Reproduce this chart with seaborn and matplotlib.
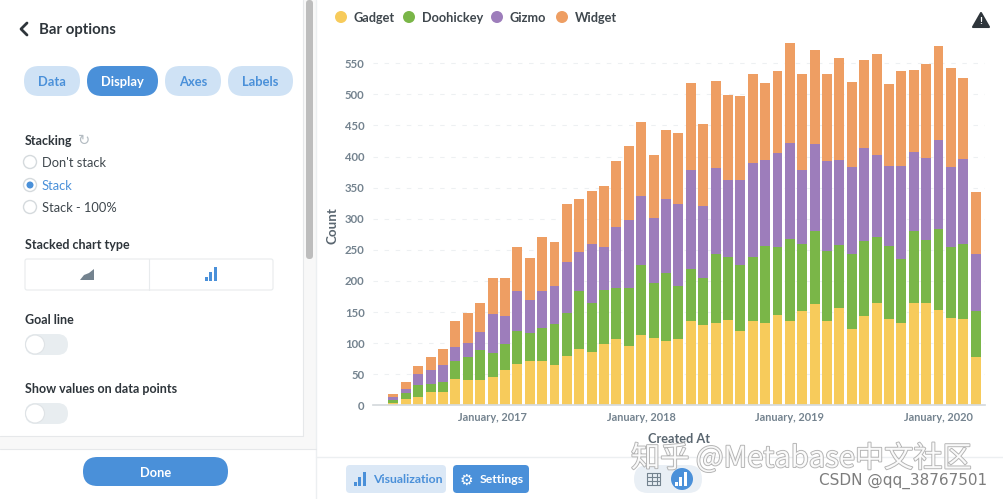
import numpy as np
import pandas as pd
import matplotlib
matplotlib.use('Agg')
import matplotlib.pyplot as plt
import matplotlib.patheffects as pe
from matplotlib.patches import Circle, FancyBboxPatch, Polygon, Rectangle
import seaborn as sns

# values
gadget = [1, 4, 10, 14, 21, 21, 43, 41, 41, 46, 56, 66, 71, 72, 65, 79, 91, 85, 99, 107, 95, 113, 108, 104, 107,
          135, 129, 133, 137, 120, 136, 133, 145, 136, 152, 163, 136, 156, 123, 143, 165, 139, 133, 165, 165, 154, 140, 139, 78]
doohickey = [0, 4, 9, 19, 14, 17, 28, 36, 48, 38, 42, 54, 46, 53, 65, 70, 92, 80, 87, 81, 93, 113, 88, 109, 85,
             84, 75, 111, 101, 106, 102, 123, 110, 131, 108, 117, 112, 102, 120, 121, 106, 117, 103, 115, 100, 129, 115, 121, 73]
gizmo = [0, 5, 7, 18, 21, 27, 22, 23, 29, 62, 45, 63, 53, 59, 61, 81, 63, 94, 68, 98, 110, 111, 105, 118, 131,
         159, 117, 137, 125, 136, 151, 139, 151, 154, 119, 140, 144, 137, 140, 150, 131, 129, 149, 127, 133, 144, 128, 136, 92]
widget = [0, 5, 11, 12, 22, 26, 43, 48, 47, 58, 62, 72, 67, 87, 72, 94, 85, 85, 99, 106, 119, 119, 101, 112, 114,
          140, 132, 140, 136, 135, 143, 123, 131, 161, 153, 151, 140, 164, 137, 141, 163, 132, 153, 132, 151, 151, 159, 130, 100]
products = ['Gadget', 'Doohickey', 'Gizmo', 'Widget']
colors = ['#f7cb5b', '#7ab648', '#9d7dbb', '#ee9e63']
y_ticks = [0, 50, 100, 150, 200, 250, 300, 350, 400, 450, 500, 550]
x_tick_pos = [9, 21, 33, 45]
x_tick_labels = ['January, 2017', 'January, 2018', 'January, 2019', 'January, 2020']

W, H = 1004, 499
BLUE = '#4a90d9'
PALE = '#cfe2f5'
DARK = '#2e353b'
GRAY = '#74838f'

sns.set_theme(style='white')
plt.rcParams['font.family'] = ['Lato', 'Noto Sans CJK SC', 'DejaVu Sans']

months = np.arange(len(gadget))
df = pd.DataFrame({
    'month': np.tile(months, 4),
    'count': gadget + doohickey + gizmo + widget,
    'product': np.repeat(products, len(months)),
})

fig = plt.figure(figsize=(W / 100, H / 100), dpi=100, facecolor='white')

# ── chart ─────────────────────────────────────────────
left, right, top, base = 373, 985, 40, 405.3
ax = fig.add_axes([left / W, 1 - base / H, (right - left) / W, (base - top) / H])
sns.histplot(df, x='month', weights='count', hue='product', hue_order=products[::-1],
             palette=dict(zip(products, colors)), multiple='stack', discrete=True, shrink=0.8,
             alpha=1, linewidth=0, legend=False, ax=ax)
ax.set_xlim(-0.65, 48.75)
ax.set_ylim(0, (base - top) / 0.622)
ax.set_yticks(y_ticks)
ax.set_xticks(x_tick_pos, x_tick_labels)
ax.set_xticks([-0.65, 48.75], minor=True)
ax.tick_params(axis='x', which='major', length=0, pad=5, labelsize=7.9, labelcolor=GRAY)
ax.tick_params(axis='x', which='minor', length=4, width=0.8, color='#d5dadd')
ax.tick_params(axis='y', length=0, pad=6, labelsize=8.2, labelcolor=GRAY)
for lab in ax.get_xticklabels() + ax.get_yticklabels():
    lab.set_fontweight('bold')
ax.grid(axis='y', linestyle=(0, (4, 6)), color='#edf0f2', linewidth=0.8)
ax.set_axisbelow(True)
sns.despine(ax=ax, left=True)
ax.spines['bottom'].set_color('#d5dadd')
ax.set_xlabel('')
ax.set_ylabel('')

# ── screen around the chart, in pixel coordinates ─────
ui = fig.add_axes([0, 0, 1, 1], facecolor='none')
ui.set_xlim(0, W)
ui.set_ylim(H, 0)
ui.axis('off')


def txt(x, y, s, size=9, color=DARK, weight='normal', ha='left', **kw):
    ui.text(x, y + 0.8, s, fontsize=size, color=color, fontweight=weight, ha=ha, va='center', **kw)


def pill(x0, y0, x1, y1, color, r=None, edge='none'):
    r = (y1 - y0) / 2 if r is None else r
    ui.add_patch(FancyBboxPatch((x0 + r, y0 + r), x1 - x0 - 2 * r, y1 - y0 - 2 * r,
                                boxstyle=f'round,pad={r}', fc=color, ec=edge, lw=0.8))


def bars_icon(x, y, color, s=1.0):
    for dx, h in [(0, 4), (4.5, 9), (9, 14)]:
        ui.add_patch(Rectangle((x + dx * s, y - h * s), 2.6 * s, h * s, fc=color, ec='none'))


def toggle(y):
    pill(25, y, 68, y + 21, '#e8edf0')
    ui.add_patch(Circle((35, y + 10.5), 9.5, fc='white', ec='#dfe3e6', lw=0.8))


# legend
for x, name, c in zip([341, 409, 497, 562], products, colors):
    ui.add_patch(Circle((x, 17), 6, fc=c, ec='none'))
    txt(x + 13, 17, name, size=9.2, weight='bold', color='#3f474d')
txt(333, 225, 'Count', size=9.6, weight='bold', color='#5a6670', ha='center', rotation=90)
txt(679, 438.5, 'Created At', size=9.2, weight='bold', color='#5a6670', ha='center')
ui.add_patch(Polygon([[981, 13], [973, 27], [989, 27]], closed=True, fc=DARK, ec=DARK, lw=1.5, joinstyle='round'))
txt(981, 21, '!', size=7.5, color='white', weight='bold', ha='center')

# left panel
ui.plot([316, 316], [0, H], color='#eceff1', lw=1)
ui.add_patch(Rectangle((303, 0), 13, 436, fc='#f8f8f8', ec='none'))
pill(306, 0, 313, 259, '#bdbdbd', r=3.4)
ui.add_patch(Rectangle((0, 436), 316, 13, fc='#f8f8f8', ec='none'))
ui.plot([0, 303], [436, 436], color='#e6e8ea', lw=0.8)
ui.plot([303, 303], [0, 436], color='#e6e8ea', lw=0.8)
ui.plot([0, 316], [449, 449], color='#e6e8ea', lw=0.8)
ui.plot([27, 21, 27], [23, 29, 35], color=DARK, lw=2)
txt(39, 29, 'Bar options', size=10.8, weight='bold')

for x0, x1, name, active in [(24, 80, 'Data', False), (87, 158, 'Display', True),
                             (165, 221, 'Axes', False), (228, 293, 'Labels', False)]:
    pill(x0, 66, x1, 96, BLUE if active else PALE)
    txt((x0 + x1) / 2, 81, name, size=9.3, weight='bold', color='white' if active else BLUE, ha='center')

txt(25, 140, 'Stacking', size=9, weight='bold')
txt(84, 140, '↻', size=10.5, color='#b4bcc2', ha='center', family='DejaVu Sans')
for y, name, on in [(162, "Don't stack", False), (185, 'Stack', True), (207, 'Stack - 100%', False)]:
    ui.add_patch(Circle((30, y), 6.5, fc='white', ec='#d5dadd', lw=1))
    if on:
        ui.add_patch(Circle((30, y), 3.5, fc=BLUE, ec='none'))
    txt(42, y, name, size=9.3, color=BLUE if on else '#3f474d')

txt(25, 244, 'Stacked chart type', size=9, weight='bold')
pill(25, 259, 273, 290, 'white', r=2, edge='#e8ebed')
ui.plot([149.5, 149.5], [259, 290], color='#e8ebed', lw=0.8)
ui.add_patch(Polygon([[80, 280], [84, 275], [89, 273], [94, 269], [94, 280]], closed=True, fc='#74838f', ec='none'))
bars_icon(205, 281, BLUE)

txt(25, 319, 'Goal line', size=9, weight='bold')
toggle(334)
txt(25, 388, 'Show values on data points', size=9, weight='bold')
toggle(403)
pill(83, 457, 228, 486, BLUE)
txt(155.5, 472, 'Done', size=9.3, weight='bold', color='white', ha='center')

# bottom bar
ui.plot([316, W], [457, 457], color='#eceff1', lw=1)
pill(346, 465, 446, 493, '#dbe8f6', r=4)
bars_icon(354, 486, BLUE)
txt(373, 479, 'Visualization', size=8.8, weight='bold', color=BLUE)
pill(453, 465, 529, 493, BLUE, r=4)
txt(466, 479, '⚙', size=11, color='white', ha='center', family='DejaVu Sans')
txt(480, 479, 'Settings', size=8.8, weight='bold', color='white')
pill(634, 465, 702, 493, '#e9eff5')
for xx in [647, 652, 657]:
    ui.plot([xx, xx], [473, 485], color='#74838f', lw=0.8)
for yy in [473, 477, 481, 485]:
    ui.plot([647, 660], [yy, yy], color='#74838f', lw=0.8)
ui.plot([660, 660], [473, 485], color='#74838f', lw=0.8)
ui.add_patch(Circle((682, 479), 11, fc=BLUE, ec='none'))
bars_icon(675, 486, 'white')

# watermarks
halo = [pe.withStroke(linewidth=1.3, foreground='#aaaaaa')]
ui.text(631, 459, '知乎 @Metabase中文社区', fontsize=21, color='white', va='center', ha='left',
        family=['Noto Sans CJK SC', 'DejaVu Sans'], path_effects=halo, alpha=0.9)
ui.text(819, 481, 'CSDN @qq_38767501', fontsize=11, color='#7d7d7d', va='center', ha='left',
        family=['DejaVu Sans'])

fig.savefig('out.png', dpi=100)
plt.close(fig)
